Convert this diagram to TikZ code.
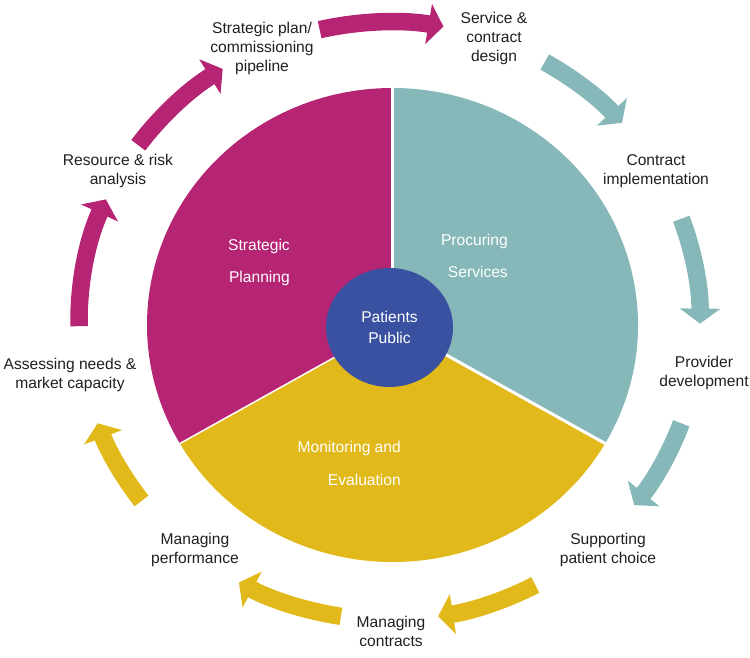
\documentclass[tikz,border=0pt]{standalone}
\usepackage{fontspec}
\setmainfont{Liberation Sans}
\usetikzlibrary{shapes.geometric, arrows.meta, calc}

\definecolor{plum}{RGB}{182,36,116}
\definecolor{sea}{RGB}{134,184,185}
\definecolor{gold}{RGB}{226,185,27}
\definecolor{navy}{RGB}{57,81,160}

\begin{document}
\begin{tikzpicture}[
	x=1pt, y=1pt,
	every node/.style = {draw=none, inner sep=0pt, align=center, text=black!88, font=\fontsize{15.6pt}{19pt}\selectfont},
	seg/.style = {draw=none, inner sep=0pt, align=right, text=white, font=\fontsize{15.6pt}{32.5pt}\selectfont},
	hub/.style = {shape=ellipse, fill=navy, text=white, minimum width=127pt, minimum height=119pt, font=\fontsize{15.6pt}{21pt}\selectfont},
	pie/.style = {x radius=245.5pt, y radius=237pt},
	orbit/.style = {x radius=310.5pt, y radius=299pt},
	ring/.style = {line width=17.5pt, -{Triangle[width=40pt, length=15pt]}},
	split/.style = {draw=white, line width=3pt},
	]
\useasboundingbox (0,0) rectangle (750,-658);
% the three segments
\coordinate (C) at (392.5,-325);
\fill[plum] (C) -- ++(90:245.5pt and 237pt) arc[pie, start angle=90, end angle=210] -- cycle;
\fill[sea] (C) -- ++(-30:245.5pt and 237pt) arc[pie, start angle=-30, end angle=90] -- cycle;
\fill[gold] (C) -- ++(210:245.5pt and 237pt) arc[pie, start angle=210, end angle=330] -- cycle;
\coordinate (T) at ($(C)+(90:245.5pt and 237pt)$);
\coordinate (BL) at ($(C)+(210:245.5pt and 237pt)$);
\coordinate (BR) at ($(C)+(330:245.5pt and 237pt)$);
\draw[split] (C) -- (T);
\draw[split] (C) -- (BR);
\draw[split, line width=1.5pt] (C) -- (BL);
\node[seg] (SP) [anchor=east] at (290,-262.5) {Strategic\\Planning};
\node[seg] (PS) [anchor=east] at (508,-256) {Procuring\\Services};
\node[seg] (ME) [anchor=east] at (401,-463.5) {Monitoring and\\Evaluation};
\node[hub] (PP) at (389.5,-327.5) {Patients\\Public};
% outer labels, clockwise from the top
\node (s1) at (262,-48) {Strategic plan/\\commissioning\\pipeline};
\node (s2) at (494,-38) {Service \&\\contract\\design};
\node (s3) at (656,-171) {Contract\\implementation};
\node (s4) at (704,-373) {Provider\\development};
\node (s5) at (608,-550) {Supporting\\patient choice};
\node (s6) at (391,-631) {Managing\\contracts};
\node (s7) at (195,-550) {Managing\\performance};
\node (s8) at (70,-375) {Assessing needs \&\\market capacity};
\node (s9) at (118,-171) {Resource \& risk\\analysis};
% arrows round the ring, clockwise
\coordinate (R) at (389.5,-321);
\coordinate (a1) at ($(R)+(181:310.5pt and 299pt)$);
\coordinate (a2) at ($(R)+(144:310.5pt and 299pt)$);
\coordinate (a3) at ($(R)+(103:310.5pt and 299pt)$);
\coordinate (a4) at ($(R)+(60:310.5pt and 299pt)$);
\coordinate (a5) at ($(R)+(20:310.5pt and 299pt)$);
\coordinate (a6) at ($(R)+(-20:310.5pt and 299pt)$);
\coordinate (a7) at ($(R)+(-62:310.5pt and 299pt)$);
\coordinate (a8) at ($(R)+(-99:310.5pt and 299pt)$);
\coordinate (a9) at ($(R)+(-143:310.5pt and 299pt)$);
\draw[ring, plum] (a1) arc[orbit, start angle=181, end angle=156];
\draw[ring, plum] (a2) arc[orbit, start angle=144, end angle=122.5];
\draw[ring, plum] (a3) arc[orbit, start angle=103, end angle=80];
\draw[ring, sea] (a4) arc[orbit, start angle=60, end angle=41.5];
\draw[ring, sea] (a5) arc[orbit, start angle=20, end angle=-0.5];
\draw[ring, sea] (a6) arc[orbit, start angle=-20, end angle=-38];
\draw[ring, gold] (a7) arc[orbit, start angle=-62, end angle=-81];
\draw[ring, gold] (a8) arc[orbit, start angle=-99, end angle=-119];
\draw[ring, gold] (a9) arc[orbit, start angle=-143, end angle=-160];
\end{tikzpicture}
\end{document}
